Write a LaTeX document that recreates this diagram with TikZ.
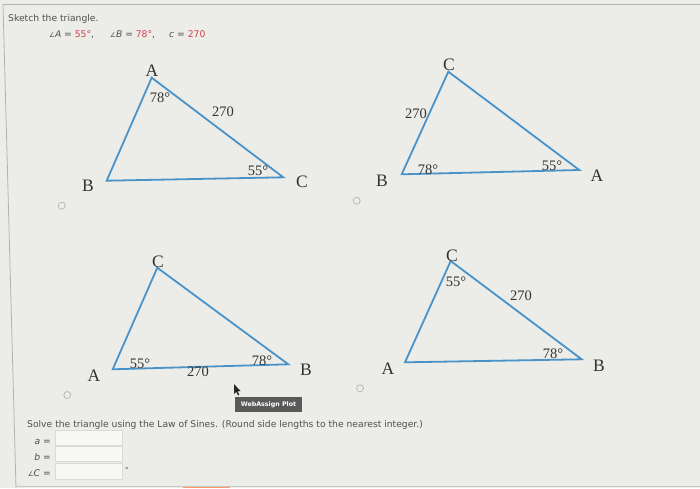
\documentclass[tikz,border=0pt]{standalone}
\usepackage{fontspec}
\setmainfont{Liberation Serif}
\newfontfamily\uisans{DejaVu Sans}
\usetikzlibrary{calc}
\definecolor{bgc}{HTML}{ECECE8}
\definecolor{tric}{HTML}{4A93C9}
\definecolor{lab}{HTML}{333333}
\definecolor{uitext}{HTML}{505050}
\definecolor{redc}{HTML}{D0404E}
\definecolor{boxb}{HTML}{DADAD6}
\tikzset{
  tri/.style={draw=tric, line width=1.8pt, line join=miter},
  vlab/.style={font=\fontsize{17.5}{17.5}\selectfont, text=lab, inner sep=0pt},
  nlab/.style={font=\fontsize{14.5}{14.5}\selectfont, text=lab, inner sep=0pt},
  ui/.style={font=\uisans\fontsize{9.2}{10}\selectfont, text=uitext, inner sep=0pt, anchor=base west},
  radio/.style={draw=gray!55, line width=0.8pt, circle, minimum size=7pt, inner sep=0pt},
  inbox/.style={draw=boxb, fill=white!60!bgc, line width=0.6pt},
}
\begin{document}
\begin{tikzpicture}[x=1pt,y=-1pt]
\fill[bgc] (0,0) rectangle (700,488);
\useasboundingbox (0,0) rectangle (700,488);
% frame
\draw[gray!60, line width=0.6pt] (3,4) -- (700,4);
\draw[gray!60, line width=0.8pt] (3,4) -- (16,488);
\draw[gray!45, line width=0.6pt] (16,486) -- (700,486);
\draw[orange!70!red!60, line width=1pt] (183,487) -- (230,487);

% header
\node[ui] (h1) at (8,21) {Sketch the triangle.};
\node[ui] (h2a) at (49,37) {{\fontsize{6.5}{6.5}\selectfont ∠}\textit{A} = \textcolor{redc}{55°},};
\node[ui] (h2b) at (110,37) {{\fontsize{6.5}{6.5}\selectfont ∠}\textit{B} = \textcolor{redc}{78°},};
\node[ui] (h2c) at (169,37) {\textit{c} = \textcolor{redc}{270}};

% triangle 1
\coordinate (A1) at (151.7,77.7);
\coordinate (B1) at (106.7,180.7);
\coordinate (C1) at (283.3,177.3);
\draw[tri] (A1) -- (B1) -- (C1) -- cycle;
\node[vlab] (lA1) at (152,71) {A};
\node[vlab] (lB1) at (88,186) {B};
\node[vlab] (lC1) at (302,182) {C};
\node[nlab] (n1a) at (160,98) {78°};
\node[nlab] (n1b) at (223,112) {270};
\node[nlab] (n1c) at (258,171) {55°};

% triangle 2
\coordinate (C2) at (448.3,71.7);
\coordinate (B2) at (401.7,174.3);
\coordinate (A2) at (579.3,170);
\draw[tri] (A2) -- (B2) -- (C2) -- cycle;
\node[vlab] (lC2) at (449,65) {C};
\node[vlab] (lB2) at (382,181) {B};
\node[vlab] (lA2) at (597,176) {A};
\node[nlab] (n2a) at (416,114) {270};
\node[nlab] (n2b) at (428,170) {78°};
\node[nlab] (n2c) at (552,166) {55°};

% triangle 3
\coordinate (C3) at (157.3,267.7);
\coordinate (A3) at (112.7,369.3);
\coordinate (B3) at (288.3,364.3);
\draw[tri] (A3) -- (B3) -- (C3) -- cycle;
\node[vlab] (lC3) at (158,262) {C};
\node[vlab] (lA3) at (94,376) {A};
\node[vlab] (lB3) at (306,370) {B};
\node[nlab] (n3a) at (140,364) {55°};
\node[nlab] (n3b) at (262,361) {78°};
\node[nlab] (n3c) at (198,372) {270};

% triangle 4
\coordinate (C4) at (450.7,261);
\coordinate (A4) at (405,362.3);
\coordinate (B4) at (581.7,359.3);
\draw[tri] (A4) -- (B4) -- (C4) -- cycle;
\node[vlab] (lC4) at (452,256) {C};
\node[vlab] (lA4) at (388,369) {A};
\node[vlab] (lB4) at (599,366) {B};
\node[nlab] (n4a) at (456,282) {55°};
\node[nlab] (n4b) at (521,296) {270};
\node[nlab] (n4c) at (553,354) {78°};

% radio buttons
\node[radio] (r1) at (61.7,205.7) {};
\node[radio] (r2) at (356.7,200.7) {};
\node[radio] (r3) at (67.3,395) {};
\node[radio] (r4) at (360,388.3) {};

% cursor
\fill[black!85] (234,384) -- (234,394) -- (236.3,391.8) -- (238,395.5) -- (239.3,394.9) -- (237.7,391.3) -- (240.5,391) -- cycle;

% WebAssign Plot tag
\node[fill=black!65, text=white, font=\uisans\bfseries\fontsize{6.3}{6.3}\selectfont, inner sep=0pt, minimum width=67pt, minimum height=15pt] (wa) at (268.5,404.5) {WebAssign Plot};

% question
\node[ui] (q) at (27,427) {Solve the triangle using the Law of Sines. (Round side lengths to the nearest integer.)};
\node[ui, anchor=base east] (la) at (51,444) {\textit{a} =};
\node[ui, anchor=base east] (lb) at (51,460) {\textit{b} =};
\node[ui, anchor=base east] (lc) at (51,476) {{\fontsize{6.5}{6.5}\selectfont ∠}\textit{C} =};
\draw[inbox] (55,430) rectangle (122,445);
\draw[inbox] (55,446.5) rectangle (122,461.5);
\draw[inbox] (55,463) rectangle (122,479);
\node[ui, font=\uisans\fontsize{7}{7}\selectfont] (deg) at (125,472) {°};
\end{tikzpicture}
\end{document}
